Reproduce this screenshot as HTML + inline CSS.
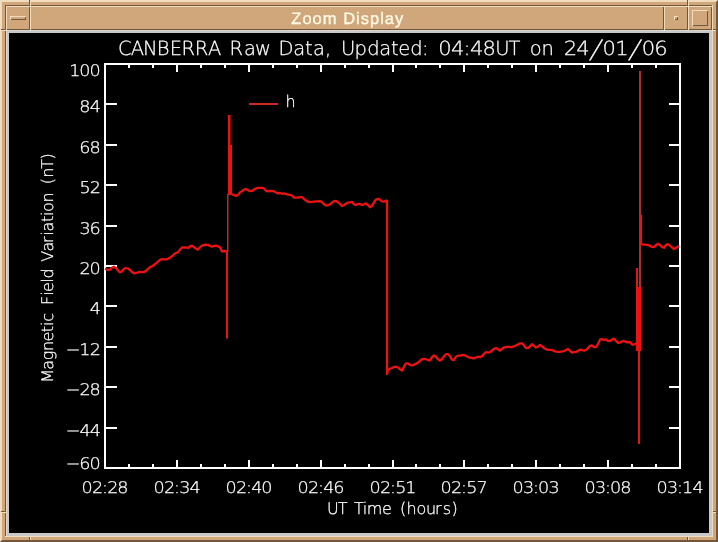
<!DOCTYPE html>
<html><head><meta charset="utf-8"><title>Zoom Display</title>
<style>html,body{margin:0;padding:0;background:#d0a67b;overflow:hidden}svg{display:block;will-change:transform}</style>
</head><body>
<svg width="718" height="542" viewBox="0 0 718 542">
<rect x="0" y="0" width="718" height="542" fill="#d0a67b"/>
<rect x="0" y="0" width="718" height="2" fill="#f2dcc0"/>
<rect x="0" y="0" width="2" height="542" fill="#f2dcc0"/>
<polygon points="718,0 718,542 0,542 0,540 716,540 716,0" fill="#74573a"/>
<polygon points="716,0 718,0 716,2" fill="#f2dcc0"/>
<polygon points="0,540 0,542 2,540" fill="#f2dcc0"/>
<rect x="5" y="5" width="708" height="1" fill="#74573a"/>
<rect x="5" y="5" width="1" height="532" fill="#74573a"/>
<rect x="712" y="5" width="1" height="532" fill="#f2dcc0"/>
<rect x="5" y="536" width="708" height="1" fill="#f2dcc0"/>
<rect x="29" y="0" width="1" height="6" fill="#74573a"/>
<rect x="30" y="0" width="1" height="6" fill="#f2dcc0"/>
<rect x="29" y="537" width="1" height="3" fill="#74573a"/>
<rect x="30" y="537" width="1" height="3" fill="#f2dcc0"/>
<rect x="687" y="0" width="1" height="6" fill="#74573a"/>
<rect x="688" y="0" width="1" height="6" fill="#f2dcc0"/>
<rect x="687" y="537" width="1" height="3" fill="#74573a"/>
<rect x="688" y="537" width="1" height="3" fill="#f2dcc0"/>
<rect x="1" y="29" width="4" height="1" fill="#74573a"/>
<rect x="1" y="30" width="5" height="1" fill="#f2dcc0"/>
<rect x="713" y="29" width="3" height="1" fill="#74573a"/>
<rect x="713" y="30" width="3" height="1" fill="#f2dcc0"/>
<rect x="1" y="511" width="4" height="1" fill="#74573a"/>
<rect x="1" y="512" width="5" height="1" fill="#f2dcc0"/>
<rect x="713" y="511" width="3" height="1" fill="#74573a"/>
<rect x="713" y="512" width="3" height="1" fill="#f2dcc0"/>
<rect x="6" y="6" width="24" height="1" fill="#f2dcc0"/>
<rect x="6" y="6" width="1" height="24" fill="#f2dcc0"/>
<rect x="7" y="29" width="23" height="1" fill="#74573a"/>
<rect x="29" y="7" width="1" height="23" fill="#74573a"/>
<rect x="30" y="6" width="634" height="1" fill="#f2dcc0"/>
<rect x="30" y="6" width="1" height="24" fill="#f2dcc0"/>
<rect x="31" y="29" width="633" height="1" fill="#74573a"/>
<rect x="663" y="7" width="1" height="23" fill="#74573a"/>
<rect x="664" y="6" width="24" height="1" fill="#f2dcc0"/>
<rect x="664" y="6" width="1" height="24" fill="#f2dcc0"/>
<rect x="665" y="29" width="23" height="1" fill="#74573a"/>
<rect x="687" y="7" width="1" height="23" fill="#74573a"/>
<rect x="688" y="6" width="24" height="1" fill="#f2dcc0"/>
<rect x="688" y="6" width="1" height="24" fill="#f2dcc0"/>
<rect x="689" y="29" width="23" height="1" fill="#74573a"/>
<rect x="711" y="7" width="1" height="23" fill="#74573a"/>
<rect x="10" y="16" width="16" height="1" fill="#f2dcc0"/>
<rect x="10" y="16" width="1" height="4" fill="#f2dcc0"/>
<rect x="11" y="19" width="15" height="1" fill="#74573a"/>
<rect x="25" y="17" width="1" height="3" fill="#74573a"/>
<rect x="674" y="16" width="4" height="1" fill="#f2dcc0"/>
<rect x="674" y="16" width="1" height="4" fill="#f2dcc0"/>
<rect x="675" y="19" width="3" height="1" fill="#74573a"/>
<rect x="677" y="17" width="1" height="3" fill="#74573a"/>
<rect x="692" y="10" width="16" height="1" fill="#f2dcc0"/>
<rect x="692" y="10" width="1" height="16" fill="#f2dcc0"/>
<rect x="693" y="25" width="15" height="1" fill="#74573a"/>
<rect x="707" y="11" width="1" height="15" fill="#74573a"/>
<text x="291.3" y="24" fill="#fffbe6" font-family="Liberation Sans, Arial, sans-serif" font-size="16.5" textLength="112" lengthAdjust="spacing" text-rendering="geometricPrecision" stroke="#fffbe6" stroke-width="0.35">Zoom Display</text>
<rect x="6" y="30" width="706" height="506" fill="#c8c8c8"/>
<rect x="6" y="30" width="706" height="1" fill="#dcd5ce"/>
<rect x="6" y="30" width="1" height="506" fill="#dcd5ce"/>
<rect x="9" y="33" width="700" height="500" fill="#000"/>
<g fill="#ffffff">
<rect x="104" y="63" width="577" height="2"/>
<rect x="104" y="467" width="577" height="2"/>
<rect x="104" y="63" width="2" height="406"/>
<rect x="679" y="63" width="2" height="406"/>
<rect x="128" y="464" width="2" height="3"/>
<rect x="128" y="65" width="2" height="3"/>
<rect x="152" y="464" width="2" height="3"/>
<rect x="152" y="65" width="2" height="3"/>
<rect x="176" y="460" width="2" height="7"/>
<rect x="176" y="65" width="2" height="7"/>
<rect x="200" y="464" width="2" height="3"/>
<rect x="200" y="65" width="2" height="3"/>
<rect x="224" y="464" width="2" height="3"/>
<rect x="224" y="65" width="2" height="3"/>
<rect x="248" y="460" width="2" height="7"/>
<rect x="248" y="65" width="2" height="7"/>
<rect x="272" y="464" width="2" height="3"/>
<rect x="272" y="65" width="2" height="3"/>
<rect x="296" y="464" width="2" height="3"/>
<rect x="296" y="65" width="2" height="3"/>
<rect x="320" y="460" width="2" height="7"/>
<rect x="320" y="65" width="2" height="7"/>
<rect x="344" y="464" width="2" height="3"/>
<rect x="344" y="65" width="2" height="3"/>
<rect x="368" y="464" width="2" height="3"/>
<rect x="368" y="65" width="2" height="3"/>
<rect x="392" y="460" width="2" height="7"/>
<rect x="392" y="65" width="2" height="7"/>
<rect x="415" y="464" width="2" height="3"/>
<rect x="415" y="65" width="2" height="3"/>
<rect x="439" y="464" width="2" height="3"/>
<rect x="439" y="65" width="2" height="3"/>
<rect x="463" y="460" width="2" height="7"/>
<rect x="463" y="65" width="2" height="7"/>
<rect x="487" y="464" width="2" height="3"/>
<rect x="487" y="65" width="2" height="3"/>
<rect x="511" y="464" width="2" height="3"/>
<rect x="511" y="65" width="2" height="3"/>
<rect x="535" y="460" width="2" height="7"/>
<rect x="535" y="65" width="2" height="7"/>
<rect x="559" y="464" width="2" height="3"/>
<rect x="559" y="65" width="2" height="3"/>
<rect x="583" y="464" width="2" height="3"/>
<rect x="583" y="65" width="2" height="3"/>
<rect x="607" y="460" width="2" height="7"/>
<rect x="607" y="65" width="2" height="7"/>
<rect x="631" y="464" width="2" height="3"/>
<rect x="631" y="65" width="2" height="3"/>
<rect x="655" y="464" width="2" height="3"/>
<rect x="655" y="65" width="2" height="3"/>
<rect x="106" y="103" width="11" height="2"/>
<rect x="669" y="103" width="10" height="2"/>
<rect x="106" y="144" width="11" height="2"/>
<rect x="669" y="144" width="10" height="2"/>
<rect x="106" y="184" width="11" height="2"/>
<rect x="669" y="184" width="10" height="2"/>
<rect x="106" y="225" width="11" height="2"/>
<rect x="669" y="225" width="10" height="2"/>
<rect x="106" y="265" width="11" height="2"/>
<rect x="669" y="265" width="10" height="2"/>
<rect x="106" y="305" width="11" height="2"/>
<rect x="669" y="305" width="10" height="2"/>
<rect x="106" y="346" width="11" height="2"/>
<rect x="669" y="346" width="10" height="2"/>
<rect x="106" y="386" width="11" height="2"/>
<rect x="669" y="386" width="10" height="2"/>
<rect x="106" y="427" width="11" height="2"/>
<rect x="669" y="427" width="10" height="2"/>
</g>
<polyline points="105,268.8 106,269.2 108,270 110,269.6 112,267.5 114,266.7 116,268 118,270.5 120,272.4 122,271.3 124,268.8 126,268 128,268.5 130,270 132,272.1 134,273.4 136,273 138,272.4 140,271.9 142,272.1 144,272.1 146,270.7 148,268.8 150,267.1 152,266.3 154,265 156,263.4 158,261.7 160,259.8 162,259.2 164,259.4 166,259.4 168,258.8 170,257.6 172,256.3 174,254.2 176,253 178,252.1 180,249.6 182,247.5 184,247.4 186,247.5 188,248 190,246.3 192,245.7 194,247.1 196,248.8 198,249.6 200,247.1 202,245.7 204,245 206,244.6 208,244.9 210,245.9 212,246.7 214,246 216,245.7 218,246.4 220,247.2 222,251.4 224,251 226,251.4 227,251.4" fill="none" stroke="#ec1212" stroke-width="2.3" stroke-linejoin="round"/>
<polyline points="231,194.2 232,194.2 234,195 236,195.9 238,194.8 240,192.5 242,191.1 244,189.7 246,188.9 248,190.3 250,191.1 252,190.9 254,189.5 256,188.4 258,187.8 260,187.8 262,187.9 264,188.4 266,190.9 268,191.3 270,191 272,190.9 274,191.3 276,192.5 278,193.4 280,193 282,193.8 284,193.4 286,194 288,194.6 290,194.9 292,195.5 294,197.6 296,197.7 298,197.6 300,197.1 302,197.1 304,198.8 306,200.5 308,201.7 310,202.2 312,201.9 314,201.6 316,201.3 318,201.4 320,201 322,202.2 324,204.3 326,205.5 328,205.1 330,204.3 332,202.6 334,201.2 336,201 338,202.2 340,203.9 342,206 344,205.1 346,203.5 348,202.6 350,202.4 352,201.8 354,204.3 356,205.1 358,203.9 360,203.9 362,205.1 364,204.3 366,203.4 368,205 370,207.3 372,205.9 374,202.3 376,199.5 378,198.8 380,199.8 382,201.4 384,201.7 386,200.6 387,200.6 387,374 388,370 390,368.8 392,368 394,367.1 396,366.7 398,367.5 400,369.2 402,370.5 404,366.7 406,363.4 408,363.4 410,365 412,365.5 414,364.6 416,363.8 418,362.5 420,360.9 422,359.2 424,358.8 426,359.2 428,360 430,360.4 432,357.1 434,355.5 436,356.7 438,359.2 440,360.5 442,359.2 444,356.3 446,354.2 448,354.2 450,356.3 452,359.6 454,360 456,356.7 458,355.7 460,355.7 462,355.2 464,355 466,355.9 468,357.1 470,357.5 472,358 474,358.4 476,357.5 478,356.7 480,357.1 482,356.3 484,353.8 486,352.1 488,352.5 490,352.1 492,350.5 494,348.8 496,348 498,349.2 500,350.5 502,348.8 504,347.5 506,347.1 508,346.7 510,347.1 512,347.1 514,346.3 516,345.5 518,344.4 520,343.4 522,343.4 524,345.5 526,348 528,348 530,346.3 532,344.2 534,345.9 536,347.5 538,346.7 540,345 542,346.3 544,348 546,349.2 548,349.9 550,349.9 552,350 554,350.9 556,351.6 558,351.9 560,351.9 562,351.3 564,351.1 566,350 568,349 570,350.9 572,352.6 574,352.1 576,351.9 578,350.9 580,349.6 582,350 584,350.7 586,350 588,348 590,345.9 592,345.5 594,347.1 596,347.1 598,344.2 600,339.6 602,339.2 604,339.9 606,339.3 608,340.9 610,341.2 612,339.5 614,338.6 616,340.9 618,342.8 620,342.5 622,341.4 624,340.9 626,342 628,342.3 630,342 632,344.5 634,344.5 636,343.4 637,343.4" fill="none" stroke="#ec1212" stroke-width="2.3" stroke-linejoin="round"/>
<rect x="226" y="250.5" width="2" height="88" fill="#ec1212"/>
<rect x="227" y="194" width="1.5" height="57" fill="#a83030"/>
<rect x="228" y="115" width="2.5" height="80" fill="#ec1212"/>
<rect x="228" y="145" width="4" height="50" fill="#ec1212"/>
<rect x="636" y="268" width="2" height="83" fill="#ec1212"/>
<rect x="638" y="287" width="3" height="64" fill="#ec1212"/>
<rect x="638" y="351" width="2" height="93" fill="#ec1212"/>
<rect x="639" y="71" width="2" height="216" fill="#a83030"/>
<rect x="639" y="215" width="3" height="30" fill="#ec1212"/>
<polyline points="640.5,244.4 642,244.4 644,244.7 646,244.7 648,245 650,245.9 652,246.9 654,247.2 656,245 658,243.8 660,245 662,246.9 664,247.8 666,245 668,244.1 670,245.6 672,247.5 674,249 676,247.8 678,246.5 679,246.9" fill="none" stroke="#ec1212" stroke-width="2.3" stroke-linejoin="round"/>
<rect x="249" y="103" width="29" height="2" fill="#d02626"/>
<text x="117.95 130.74 143.04 156.71 169.81 181.48 194.77 207.92 222.21 229.56 243.99 254.94 271.55 278.48 293.34 304.96 312.95 324.89 332.92 340.90 354.48 367.17 379.37 390.99 398.30 410.19 421.93 430.34" y="55" fill="#fff" font-family="DejaVu Sans, Liberation Sans, sans-serif" font-weight="200" text-rendering="geometricPrecision" stroke="#fff" stroke-width="0.25" font-size="19.5">CANBERRA Raw Data, Updated: </text>
<text x="405.70 417.69 429.09 435.26 446.68" y="55" transform="scale(1.08,1)" fill="#fff" font-family="DejaVu Sans, Liberation Sans, sans-serif" font-weight="200" text-rendering="geometricPrecision" stroke="#fff" stroke-width="0.25" font-size="19.5">04:48</text>
<text x="495.25 508.45 521.43 529.64 541.38 555.59" y="55" fill="#fff" font-family="DejaVu Sans, Liberation Sans, sans-serif" font-weight="200" text-rendering="geometricPrecision" stroke="#fff" stroke-width="0.25" font-size="19.5">UT on </text>
<text x="521.95 533.66" y="55" transform="scale(1.08,1)" fill="#fff" font-family="DejaVu Sans, Liberation Sans, sans-serif" font-weight="200" text-rendering="geometricPrecision" stroke="#fff" stroke-width="0.25" font-size="19.5">24</text>
<text transform="translate(596.01,49.5) skewX(-16)" x="-4.30" y="8.11" fill="#fff" font-family="DejaVu Sans, Liberation Sans, sans-serif" font-weight="200" text-rendering="geometricPrecision" stroke="#fff" stroke-width="0.25" font-size="25.5">/</text>
<text x="557.99 569.74" y="55" transform="scale(1.08,1)" fill="#fff" font-family="DejaVu Sans, Liberation Sans, sans-serif" font-weight="200" text-rendering="geometricPrecision" stroke="#fff" stroke-width="0.25" font-size="19.5">01</text>
<text transform="translate(635.23,49.5) skewX(-16)" x="-4.30" y="8.11" fill="#fff" font-family="DejaVu Sans, Liberation Sans, sans-serif" font-weight="200" text-rendering="geometricPrecision" stroke="#fff" stroke-width="0.25" font-size="25.5">/</text>
<text x="594.31 605.89" y="55" transform="scale(1.08,1)" fill="#fff" font-family="DejaVu Sans, Liberation Sans, sans-serif" font-weight="200" text-rendering="geometricPrecision" stroke="#fff" stroke-width="0.25" font-size="19.5">06</text>
<text x="285.38" y="107" fill="#fff" font-family="DejaVu Sans, Liberation Sans, sans-serif" font-weight="200" text-rendering="geometricPrecision" stroke="#fff" stroke-width="0.25" font-size="16">h</text>
<text x="62.87 72.12 81.39" y="76" transform="scale(1.1,1)" fill="#fff" font-family="DejaVu Sans, Liberation Sans, sans-serif" font-weight="200" text-rendering="geometricPrecision" stroke="#fff" stroke-width="0.25" font-size="16">100</text>
<text x="72.10 81.61" y="111.6" transform="scale(1.1,1)" fill="#fff" font-family="DejaVu Sans, Liberation Sans, sans-serif" font-weight="200" text-rendering="geometricPrecision" stroke="#fff" stroke-width="0.25" font-size="16">84</text>
<text x="72.01 81.37" y="152.6" transform="scale(1.1,1)" fill="#fff" font-family="DejaVu Sans, Liberation Sans, sans-serif" font-weight="200" text-rendering="geometricPrecision" stroke="#fff" stroke-width="0.25" font-size="16">68</text>
<text x="72.19 81.61" y="192.6" transform="scale(1.1,1)" fill="#fff" font-family="DejaVu Sans, Liberation Sans, sans-serif" font-weight="200" text-rendering="geometricPrecision" stroke="#fff" stroke-width="0.25" font-size="16">52</text>
<text x="72.32 81.28" y="233.6" transform="scale(1.1,1)" fill="#fff" font-family="DejaVu Sans, Liberation Sans, sans-serif" font-weight="200" text-rendering="geometricPrecision" stroke="#fff" stroke-width="0.25" font-size="16">36</text>
<text x="72.34 81.39" y="273.6" transform="scale(1.1,1)" fill="#fff" font-family="DejaVu Sans, Liberation Sans, sans-serif" font-weight="200" text-rendering="geometricPrecision" stroke="#fff" stroke-width="0.25" font-size="16">20</text>
<text x="81.61" y="313.6" transform="scale(1.1,1)" fill="#fff" font-family="DejaVu Sans, Liberation Sans, sans-serif" font-weight="200" text-rendering="geometricPrecision" stroke="#fff" stroke-width="0.25" font-size="16">4</text>
<text x="59.82 72.15 81.61" y="354.6" transform="scale(1.1,1)" fill="#fff" font-family="DejaVu Sans, Liberation Sans, sans-serif" font-weight="200" text-rendering="geometricPrecision" stroke="#fff" stroke-width="0.25" font-size="16">−12</text>
<text x="59.82 72.34 81.37" y="394.6" transform="scale(1.1,1)" fill="#fff" font-family="DejaVu Sans, Liberation Sans, sans-serif" font-weight="200" text-rendering="geometricPrecision" stroke="#fff" stroke-width="0.25" font-size="16">−28</text>
<text x="59.82 72.34 81.61" y="435.6" transform="scale(1.1,1)" fill="#fff" font-family="DejaVu Sans, Liberation Sans, sans-serif" font-weight="200" text-rendering="geometricPrecision" stroke="#fff" stroke-width="0.25" font-size="16">−44</text>
<text x="59.82 72.01 81.39" y="469" transform="scale(1.1,1)" fill="#fff" font-family="DejaVu Sans, Liberation Sans, sans-serif" font-weight="200" text-rendering="geometricPrecision" stroke="#fff" stroke-width="0.25" font-size="16">−60</text>
<text x="74.16 83.66 92.76 97.57 106.60" y="493" transform="scale(1.1,1)" fill="#fff" font-family="DejaVu Sans, Liberation Sans, sans-serif" font-weight="200" text-rendering="geometricPrecision" stroke="#fff" stroke-width="0.25" font-size="16">02:28</text>
<text x="139.62 149.11 158.21 163.00 172.30" y="493" transform="scale(1.1,1)" fill="#fff" font-family="DejaVu Sans, Liberation Sans, sans-serif" font-weight="200" text-rendering="geometricPrecision" stroke="#fff" stroke-width="0.25" font-size="16">02:34</text>
<text x="205.07 214.57 223.67 228.48 237.53" y="493" transform="scale(1.1,1)" fill="#fff" font-family="DejaVu Sans, Liberation Sans, sans-serif" font-weight="200" text-rendering="geometricPrecision" stroke="#fff" stroke-width="0.25" font-size="16">02:40</text>
<text x="270.53 280.02 289.12 293.93 302.87" y="493" transform="scale(1.1,1)" fill="#fff" font-family="DejaVu Sans, Liberation Sans, sans-serif" font-weight="200" text-rendering="geometricPrecision" stroke="#fff" stroke-width="0.25" font-size="16">02:46</text>
<text x="335.98 345.47 354.58 359.24 368.46" y="493" transform="scale(1.1,1)" fill="#fff" font-family="DejaVu Sans, Liberation Sans, sans-serif" font-weight="200" text-rendering="geometricPrecision" stroke="#fff" stroke-width="0.25" font-size="16">02:51</text>
<text x="400.53 410.02 419.12 423.78 433.19" y="493" transform="scale(1.1,1)" fill="#fff" font-family="DejaVu Sans, Liberation Sans, sans-serif" font-weight="200" text-rendering="geometricPrecision" stroke="#fff" stroke-width="0.25" font-size="16">02:57</text>
<text x="465.98 475.46 484.58 489.16 498.64" y="493" transform="scale(1.1,1)" fill="#fff" font-family="DejaVu Sans, Liberation Sans, sans-serif" font-weight="200" text-rendering="geometricPrecision" stroke="#fff" stroke-width="0.25" font-size="16">03:03</text>
<text x="531.44 540.91 550.03 554.62 563.87" y="493" transform="scale(1.1,1)" fill="#fff" font-family="DejaVu Sans, Liberation Sans, sans-serif" font-weight="200" text-rendering="geometricPrecision" stroke="#fff" stroke-width="0.25" font-size="16">03:08</text>
<text x="596.89 606.37 615.49 620.10 629.57" y="493" transform="scale(1.1,1)" fill="#fff" font-family="DejaVu Sans, Liberation Sans, sans-serif" font-weight="200" text-rendering="geometricPrecision" stroke="#fff" stroke-width="0.25" font-size="16">03:14</text>
<text x="327.02 337.68 348.18 354.00 362.85 366.85 381.99 393.06 400.08 406.55 416.47 426.03 435.01 442.66 451.59" y="514" fill="#fff" font-family="DejaVu Sans, Liberation Sans, sans-serif" font-weight="200" text-rendering="geometricPrecision" stroke="#fff" stroke-width="0.25" font-size="16">UT Time (hours)</text>
<text transform="translate(53,382) rotate(-90)" x="-0.84 12.27 21.70 30.99 40.50 49.86 55.92 60.19 70.68 76.90 86.22 89.99 99.33 103.52 114.62 120.30 130.44 138.97 146.31 150.64 159.95 166.01 170.09 179.46 190.87 197.82 204.21 213.27 222.56" y="0" fill="#fff" font-family="DejaVu Sans, Liberation Sans, sans-serif" font-weight="200" text-rendering="geometricPrecision" stroke="#fff" stroke-width="0.25" font-size="16">Magnetic Field Variation (nT)</text>
</svg>
</body></html>
